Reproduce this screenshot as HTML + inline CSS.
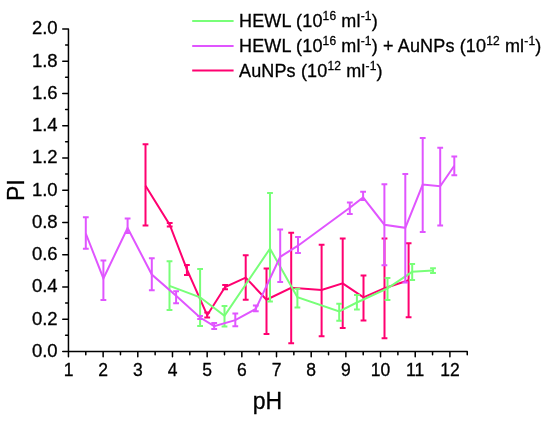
<!DOCTYPE html>
<html><head><meta charset="utf-8"><style>
html,body{margin:0;padding:0;background:#fff;}
svg{display:block;}
text{font-family:"Liberation Sans",Arial,sans-serif;fill:#000;stroke:#000;stroke-width:0.3px;}
.tk text{font-size:17.5px;}
.lg{font-size:18px;letter-spacing:0.15px;}
.sup{font-size:12px;}
</style></head><body>
<svg width="550" height="423" viewBox="0 0 550 423">
<rect width="550" height="423" fill="#fff"/>
<path d="M62.75 28.95H68.45V351.45M62.75 351.45H467.24V354.7M65.6 335.32H68.45M62.75 319.20H68.45M65.6 303.07H68.45M62.75 286.95H68.45M65.6 270.82H68.45M62.75 254.70H68.45M65.6 238.57H68.45M62.75 222.45H68.45M65.6 206.32H68.45M62.75 190.20H68.45M65.6 174.07H68.45M62.75 157.95H68.45M65.6 141.82H68.45M62.75 125.70H68.45M65.6 109.57H68.45M62.75 93.45H68.45M65.6 77.32H68.45M62.75 61.20H68.45M65.6 45.07H68.45M68.45 351.45V356.85M85.79 351.45V354.7M103.13 351.45V356.85M120.47 351.45V354.7M137.80 351.45V356.85M155.14 351.45V354.7M172.48 351.45V356.85M189.82 351.45V354.7M207.16 351.45V356.85M224.50 351.45V354.7M241.83 351.45V356.85M259.17 351.45V354.7M276.51 351.45V356.85M293.85 351.45V354.7M311.19 351.45V356.85M328.53 351.45V354.7M345.87 351.45V356.85M363.20 351.45V354.7M380.54 351.45V356.85M397.88 351.45V354.7M415.22 351.45V356.85M432.56 351.45V354.7M449.90 351.45V356.85" stroke="#000" stroke-width="1.5" fill="none" stroke-linecap="round" stroke-linejoin="round"/>
<g class="tk">
<text x="57.6" y="356.8" text-anchor="end" style="font-size:18.5px">0.0</text>
<text x="57.6" y="324.5" text-anchor="end" style="font-size:18.5px">0.2</text>
<text x="57.6" y="292.2" text-anchor="end" style="font-size:18.5px">0.4</text>
<text x="57.6" y="260.0" text-anchor="end" style="font-size:18.5px">0.6</text>
<text x="57.6" y="227.8" text-anchor="end" style="font-size:18.5px">0.8</text>
<text x="57.6" y="195.5" text-anchor="end" style="font-size:18.5px">1.0</text>
<text x="57.6" y="163.2" text-anchor="end" style="font-size:18.5px">1.2</text>
<text x="57.6" y="131.0" text-anchor="end" style="font-size:18.5px">1.4</text>
<text x="57.6" y="98.7" text-anchor="end" style="font-size:18.5px">1.6</text>
<text x="57.6" y="66.5" text-anchor="end" style="font-size:18.5px">1.8</text>
<text x="57.6" y="34.2" text-anchor="end" style="font-size:18.5px">2.0</text>
<text x="68.5" y="376.1" text-anchor="middle">1</text>
<text x="103.1" y="376.1" text-anchor="middle">2</text>
<text x="137.8" y="376.1" text-anchor="middle">3</text>
<text x="172.5" y="376.1" text-anchor="middle">4</text>
<text x="207.2" y="376.1" text-anchor="middle">5</text>
<text x="241.8" y="376.1" text-anchor="middle">6</text>
<text x="276.5" y="376.1" text-anchor="middle">7</text>
<text x="311.2" y="376.1" text-anchor="middle">8</text>
<text x="345.9" y="376.1" text-anchor="middle">9</text>
<text x="380.5" y="376.1" text-anchor="middle">10</text>
<text x="415.2" y="376.1" text-anchor="middle">11</text>
<text x="449.9" y="376.1" text-anchor="middle">12</text>
</g>
<text x="24.4" y="190.2" transform="rotate(-90 24.4 190.2)" text-anchor="middle" style="font-size:23px">PI</text>
<text x="267.5" y="409.0" text-anchor="middle" style="font-size:23px">pH</text>
<path d="M145.5 144.2V225.4M142.6 144.2H148.4M142.6 225.4H148.4M169.7 223.0V226.5M166.8 223.0H172.6M166.8 226.5H172.6M186.9 264.9V274.9M184.0 264.9H189.8M184.0 274.9H189.8M207.2 312.5V317.5M204.3 312.5H210.1M204.3 317.5H210.1M225.1 285.0V289.3M222.2 285.0H228.0M222.2 289.3H228.0M245.7 255.2V299.7M242.8 255.2H248.6M242.8 299.7H248.6M266.5 268.5V333.9M263.6 268.5H269.4M263.6 333.9H269.4M291.2 232.7V343.3M288.3 232.7H294.1M288.3 343.3H294.1M321.6 244.8V336.3M318.7 244.8H324.5M318.7 336.3H324.5M342.7 238.4V328.0M339.8 238.4H345.6M339.8 328.0H345.6M363.5 275.5V320.5M360.6 275.5H366.4M360.6 320.5H366.4M384.5 238.4V338.2M381.6 238.4H387.4M381.6 338.2H387.4M408.6 243.3V317.3M405.7 243.3H411.5M405.7 317.3H411.5" stroke="#ff0070" stroke-width="2.0" fill="none"/>
<polyline points="145.5,185.8 169.7,224.6 186.9,269.4 207.2,315.2 225.1,287.0 245.7,277.6 266.5,299.7 291.2,287.8 321.6,290.0 342.7,283.3 363.5,297.4 384.5,288.2 408.6,280.2" stroke="#ff0070" stroke-width="2.0" fill="none" stroke-linejoin="miter"/>
<path d="M169.5 261.3V310.1M166.6 261.3H172.4M166.6 310.1H172.4M200.1 268.9V326.0M197.2 268.9H203.0M197.2 326.0H203.0M224.5 306.0V326.5M221.6 306.0H227.4M221.6 326.5H227.4M270.0 192.9V301.4M267.1 192.9H272.9M267.1 301.4H272.9M297.4 288.8V307.5M294.5 288.8H300.3M294.5 307.5H300.3M339.2 303.7V320.8M336.3 303.7H342.1M336.3 320.8H342.1M356.9 295.0V309.5M354.0 295.0H359.8M354.0 309.5H359.8M387.5 278.0V300.1M384.6 278.0H390.4M384.6 300.1H390.4M412.2 264.0V280.0M409.3 264.0H415.1M409.3 280.0H415.1M433.0 268.2V273.1M430.1 268.2H435.9M430.1 273.1H435.9" stroke="#78ff78" stroke-width="2.0" fill="none"/>
<polyline points="169.5,285.9 200.1,297.3 224.5,315.8 270.0,248.6 297.4,297.3 339.2,311.5 356.9,302.5 387.5,288.4 412.2,271.8 433.0,270.6" stroke="#78ff78" stroke-width="2.0" fill="none" stroke-linejoin="miter"/>
<path d="M85.8 217.2V248.8M82.9 217.2H88.7M82.9 248.8H88.7M103.4 260.4V300.1M100.5 260.4H106.3M100.5 300.1H106.3M127.6 218.4V233.0M124.7 218.4H130.5M124.7 233.0H130.5M151.8 258.2V290.2M148.9 258.2H154.7M148.9 290.2H154.7M176.1 291.3V303.3M173.2 291.3H179.0M173.2 303.3H179.0M200.1 316.0V319.0M197.2 316.0H203.0M197.2 319.0H203.0M214.2 323.0V329.0M211.3 323.0H217.1M211.3 329.0H217.1M235.3 313.5V326.3M232.4 313.5H238.2M232.4 326.3H238.2M255.8 305.5V311.2M252.9 305.5H258.7M252.9 311.2H258.7M280.2 229.5V282.0M277.3 229.5H283.1M277.3 282.0H283.1M298.0 237.0V253.0M295.1 237.0H300.9M295.1 253.0H300.9M349.8 202.5V213.9M346.9 202.5H352.7M346.9 213.9H352.7M363.1 191.7V199.9M360.2 191.7H366.0M360.2 199.9H366.0M384.4 184.2V265.2M381.5 184.2H387.3M381.5 265.2H387.3M405.3 173.9V282.4M402.4 173.9H408.2M402.4 282.4H408.2M422.7 138.0V232.0M419.8 138.0H425.6M419.8 232.0H425.6M440.2 147.8V225.5M437.3 147.8H443.1M437.3 225.5H443.1M454.3 156.5V175.2M451.4 156.5H457.2M451.4 175.2H457.2" stroke="#e055ff" stroke-width="2.0" fill="none"/>
<polyline points="85.8,233.5 103.4,278.4 127.6,228.0 151.8,274.5 176.1,295.8 200.1,317.5 214.2,326.1 235.3,320.1 255.8,308.9 280.2,256.8 298.0,245.7 349.8,207.8 363.1,197.4 384.4,224.7 405.3,227.8 422.7,184.6 440.2,186.2 454.3,165.8" stroke="#e055ff" stroke-width="2.0" fill="none" stroke-linejoin="miter"/>
<path d="M192.2 21.0H233.6" stroke="#78ff78" stroke-width="2"/>
<text x="239.0" y="27.3" class="lg">HEWL (10<tspan class="sup" dy="-7">16</tspan><tspan dy="7"> ml</tspan><tspan class="sup" dy="-7">-1</tspan><tspan dy="7">)</tspan></text>
<path d="M192.2 46.0H233.6" stroke="#e055ff" stroke-width="2"/>
<text x="239.0" y="52.3" class="lg">HEWL (10<tspan class="sup" dy="-7">16</tspan><tspan dy="7"> ml</tspan><tspan class="sup" dy="-7">-1</tspan><tspan dy="7">) + AuNPs (10</tspan><tspan class="sup" dy="-7">12</tspan><tspan dy="7"> ml</tspan><tspan class="sup" dy="-7">-1</tspan><tspan dy="7">)</tspan></text>
<path d="M192.2 70.6H233.6" stroke="#ff0070" stroke-width="2"/>
<text x="239.0" y="76.9" class="lg">AuNPs (10<tspan class="sup" dy="-7">12</tspan><tspan dy="7"> ml</tspan><tspan class="sup" dy="-7">-1</tspan><tspan dy="7">)</tspan></text>
</svg>
</body></html>
